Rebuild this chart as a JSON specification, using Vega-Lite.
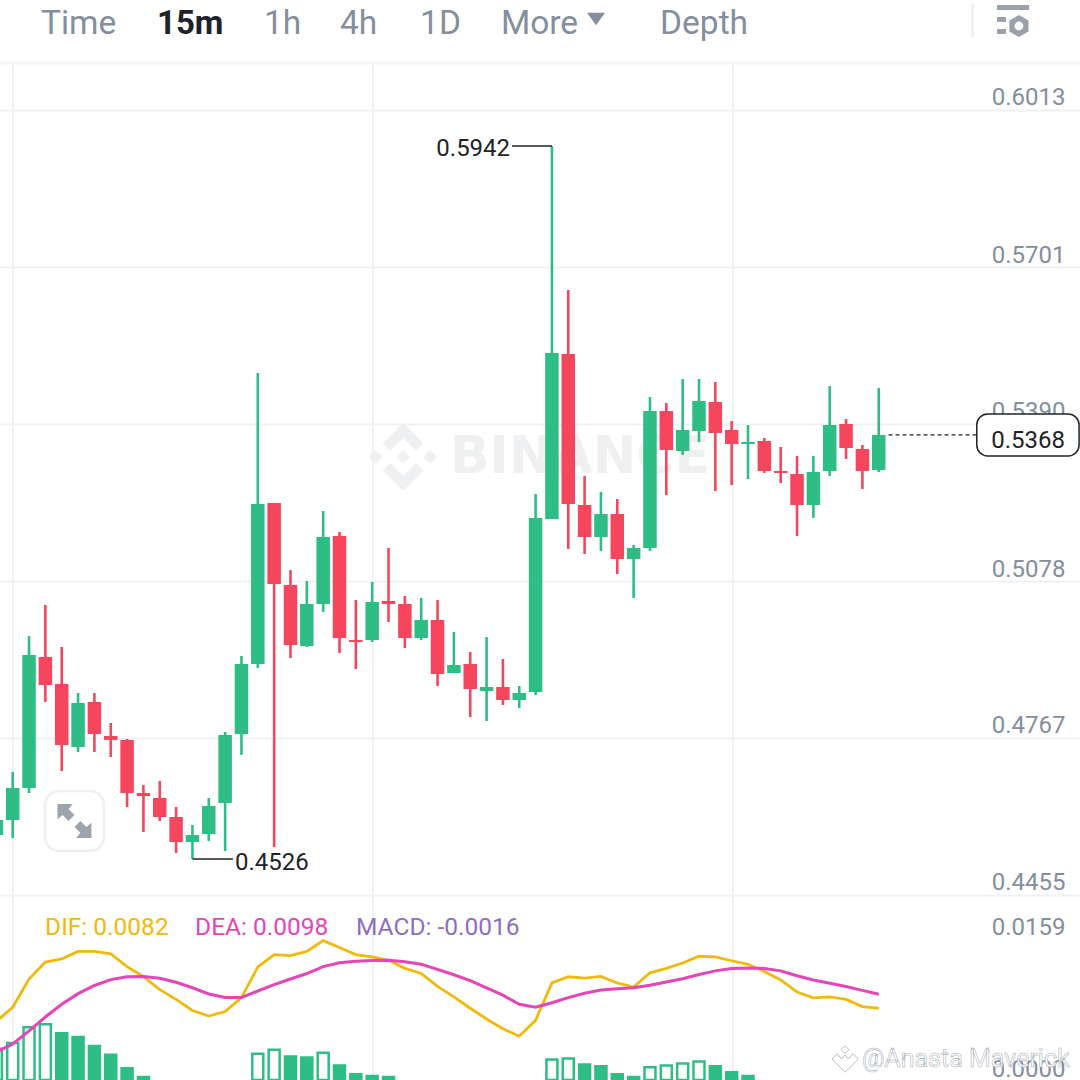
{
"$schema":"https://vega.github.io/schema/vega-lite/v6.json",
"width":1080,"height":1080,
"autosize":{"type":"none"},
"padding":0,
"background":"#ffffff",
"config":{"view":{"stroke":null},"legend":{"disable":true},"axisY":{"title":null,"ticks":false,"domain":false,"labelPadding":-15,"labelAlign":"right","labelBaseline":"alphabetic","labelFont":"Roboto","labelFontSize":24,"labelColor":"#848E9C","format":".4f"}},
"datasets":{
"candles":[
{"i":-1,"open":0.4574,"close":0.46038,"high":0.46137,"low":0.45641,"dir":"up"},
{"i":0,"open":0.46038,"close":0.46673,"high":0.46991,"low":0.45681,"dir":"up"},
{"i":1,"open":0.46673,"close":0.49313,"high":0.4969,"low":0.46574,"dir":"up"},
{"i":2,"open":0.49273,"close":0.48718,"high":0.50306,"low":0.4838,"dir":"down"},
{"i":3,"open":0.48738,"close":0.47527,"high":0.49472,"low":0.47011,"dir":"down"},
{"i":4,"open":0.47488,"close":0.4836,"high":0.48559,"low":0.47388,"dir":"up"},
{"i":5,"open":0.4838,"close":0.47746,"high":0.48559,"low":0.47388,"dir":"down"},
{"i":6,"open":0.47706,"close":0.47627,"high":0.47964,"low":0.47289,"dir":"down"},
{"i":7,"open":0.47627,"close":0.46574,"high":0.47646,"low":0.46296,"dir":"down"},
{"i":8,"open":0.46574,"close":0.46514,"high":0.46733,"low":0.458,"dir":"down"},
{"i":9,"open":0.46475,"close":0.46098,"high":0.46812,"low":0.46018,"dir":"down"},
{"i":10,"open":0.46098,"close":0.45602,"high":0.46296,"low":0.45383,"dir":"down"},
{"i":11,"open":0.45602,"close":0.4574,"high":0.45939,"low":0.45264,"dir":"up"},
{"i":12,"open":0.4576,"close":0.46316,"high":0.46475,"low":0.45622,"dir":"up"},
{"i":13,"open":0.46375,"close":0.47726,"high":0.47785,"low":0.45423,"dir":"up"},
{"i":14,"open":0.47746,"close":0.49134,"high":0.49293,"low":0.47329,"dir":"up"},
{"i":15,"open":0.49134,"close":0.5231,"high":0.54911,"low":0.49055,"dir":"up"},
{"i":16,"open":0.5233,"close":0.50723,"high":0.5233,"low":0.45503,"dir":"down"},
{"i":17,"open":0.50703,"close":0.49511,"high":0.51,"low":0.49253,"dir":"down"},
{"i":18,"open":0.49491,"close":0.50326,"high":0.50782,"low":0.49472,"dir":"up"},
{"i":19,"open":0.50326,"close":0.51655,"high":0.52171,"low":0.50167,"dir":"up"},
{"i":20,"open":0.51675,"close":0.4965,"high":0.51754,"low":0.49352,"dir":"down"},
{"i":21,"open":0.4961,"close":0.49571,"high":0.50405,"low":0.49035,"dir":"down"},
{"i":22,"open":0.4961,"close":0.50365,"high":0.50762,"low":0.49571,"dir":"up"},
{"i":23,"open":0.50385,"close":0.50326,"high":0.51437,"low":0.49968,"dir":"down"},
{"i":24,"open":0.50326,"close":0.4965,"high":0.50484,"low":0.49452,"dir":"down"},
{"i":25,"open":0.4965,"close":0.50008,"high":0.50445,"low":0.4961,"dir":"up"},
{"i":26,"open":0.50008,"close":0.48936,"high":0.50405,"low":0.48698,"dir":"down"},
{"i":27,"open":0.48956,"close":0.49114,"high":0.49769,"low":0.48956,"dir":"up"},
{"i":28,"open":0.49134,"close":0.48638,"high":0.49372,"low":0.48083,"dir":"down"},
{"i":29,"open":0.48599,"close":0.48678,"high":0.4967,"low":0.48003,"dir":"up"},
{"i":30,"open":0.48678,"close":0.4842,"high":0.49233,"low":0.48321,"dir":"down"},
{"i":31,"open":0.4842,"close":0.48559,"high":0.48698,"low":0.48261,"dir":"up"},
{"i":32,"open":0.48579,"close":0.52032,"high":0.52508,"low":0.48519,"dir":"up"},
{"i":33,"open":0.52012,"close":0.55307,"high":0.59415,"low":0.52012,"dir":"up"},
{"i":34,"open":0.55288,"close":0.5231,"high":0.56557,"low":0.51417,"dir":"down"},
{"i":35,"open":0.5229,"close":0.51655,"high":0.52865,"low":0.51318,"dir":"down"},
{"i":36,"open":0.51655,"close":0.52111,"high":0.52548,"low":0.51377,"dir":"up"},
{"i":37,"open":0.52111,"close":0.51218,"high":0.52409,"low":0.50921,"dir":"down"},
{"i":38,"open":0.51218,"close":0.51437,"high":0.51496,"low":0.50445,"dir":"up"},
{"i":39,"open":0.51437,"close":0.54156,"high":0.54434,"low":0.51377,"dir":"up"},
{"i":40,"open":0.54156,"close":0.53382,"high":0.54315,"low":0.52488,"dir":"down"},
{"i":41,"open":0.53362,"close":0.53779,"high":0.54791,"low":0.53283,"dir":"up"},
{"i":42,"open":0.53759,"close":0.54354,"high":0.54791,"low":0.53541,"dir":"up"},
{"i":43,"open":0.54335,"close":0.53719,"high":0.54731,"low":0.52568,"dir":"down"},
{"i":44,"open":0.53779,"close":0.53501,"high":0.53957,"low":0.52687,"dir":"down"},
{"i":45,"open":0.53501,"close":0.53541,"high":0.53878,"low":0.52806,"dir":"up"},
{"i":46,"open":0.53561,"close":0.52965,"high":0.5362,"low":0.52925,"dir":"down"},
{"i":47,"open":0.52965,"close":0.52925,"high":0.53442,"low":0.52727,"dir":"down"},
{"i":48,"open":0.52905,"close":0.5229,"high":0.53263,"low":0.51675,"dir":"down"},
{"i":49,"open":0.5229,"close":0.52945,"high":0.53263,"low":0.52032,"dir":"up"},
{"i":50,"open":0.52965,"close":0.53878,"high":0.54652,"low":0.52866,"dir":"up"},
{"i":51,"open":0.53898,"close":0.53422,"high":0.53997,"low":0.53203,"dir":"down"},
{"i":52,"open":0.53402,"close":0.52965,"high":0.53481,"low":0.52608,"dir":"down"},
{"i":53,"open":0.52985,"close":0.5368,"high":0.54612,"low":0.52945,"dir":"up"}
],
"lines":[
{"i":-1,"dif":0.00672,"dea":0.00319},{"i":0,"dif":0.00831,"dea":0.00412},{"i":1,"dif":0.01154,"dea":0.00561},{"i":2,"dif":0.01347,"dea":0.0072},{"i":3,"dif":0.01384,"dea":0.00865},{"i":4,"dif":0.01469,"dea":0.00987},{"i":5,"dif":0.01469,"dea":0.0108},{"i":6,"dif":0.01443,"dea":0.01147},{"i":7,"dif":0.01296,"dea":0.0118},{"i":8,"dif":0.0118,"dea":0.01184},{"i":9,"dif":0.01032,"dea":0.01162},{"i":10,"dif":0.00921,"dea":0.01117},{"i":11,"dif":0.00794,"dea":0.01054},{"i":12,"dif":0.00731,"dea":0.00983},{"i":13,"dif":0.00783,"dea":0.00942},{"i":14,"dif":0.00942,"dea":0.00942},{"i":15,"dif":0.01291,"dea":0.01017},{"i":16,"dif":0.01433,"dea":0.01091},{"i":17,"dif":0.01422,"dea":0.01154},{"i":18,"dif":0.01469,"dea":0.01217},{"i":19,"dif":0.01592,"dea":0.01296},{"i":20,"dif":0.01514,"dea":0.0134},{"i":21,"dif":0.01433,"dea":0.01358},{"i":22,"dif":0.01407,"dea":0.01366},{"i":23,"dif":0.01369,"dea":0.01369},{"i":24,"dif":0.01276,"dea":0.01351},{"i":25,"dif":0.01217,"dea":0.01322},{"i":26,"dif":0.01069,"dea":0.01265},{"i":27,"dif":0.0095,"dea":0.01203},{"i":28,"dif":0.0082,"dea":0.01136},{"i":29,"dif":0.00697,"dea":0.01054},{"i":30,"dif":0.00586,"dea":0.00969},{"i":31,"dif":0.00501,"dea":0.00865},{"i":32,"dif":0.00682,"dea":0.00831},{"i":33,"dif":0.01109,"dea":0.00883},{"i":34,"dif":0.0118,"dea":0.00942},{"i":35,"dif":0.01165,"dea":0.00991},{"i":36,"dif":0.01184,"dea":0.01028},{"i":37,"dif":0.01109,"dea":0.01042},{"i":38,"dif":0.01062,"dea":0.01054},{"i":39,"dif":0.01225,"dea":0.01083},{"i":40,"dif":0.01276,"dea":0.01121},{"i":41,"dif":0.01337,"dea":0.01158},{"i":42,"dif":0.01414,"dea":0.01206},{"i":43,"dif":0.01407,"dea":0.01247},{"i":44,"dif":0.01363,"dea":0.01273},{"i":45,"dif":0.01322,"dea":0.01281},{"i":46,"dif":0.0124,"dea":0.01273},{"i":47,"dif":0.01143,"dea":0.01247},{"i":48,"dif":0.01006,"dea":0.01191},{"i":49,"dif":0.00939,"dea":0.01143},{"i":50,"dif":0.0095,"dea":0.01106},{"i":51,"dif":0.00921,"dea":0.01069},{"i":52,"dif":0.00839,"dea":0.01024},{"i":53,"dif":0.0082,"dea":0.0098}
],
"hist":[
{"i":-1,"macd":0.00357,"trend":"rising"},{"i":0,"macd":0.00424,"trend":"rising"},{"i":1,"macd":0.00602,"trend":"rising"},{"i":2,"macd":0.00636,"trend":"rising"},{"i":3,"macd":0.00535,"trend":"falling"},{"i":4,"macd":0.00491,"trend":"falling"},{"i":5,"macd":0.0039,"trend":"falling"},{"i":6,"macd":0.0029,"trend":"falling"},{"i":7,"macd":0.00134,"trend":"falling"},{"i":8,"macd":0.00033,"trend":"falling"},
{"i":15,"macd":0.00301,"trend":"rising"},{"i":16,"macd":0.00346,"trend":"rising"},{"i":17,"macd":0.00268,"trend":"falling"},{"i":18,"macd":0.00256,"trend":"falling"},{"i":19,"macd":0.00312,"trend":"rising"},{"i":20,"macd":0.00167,"trend":"falling"},{"i":21,"macd":0.00067,"trend":"falling"},{"i":22,"macd":0.00045,"trend":"falling"},{"i":23,"macd":0.00033,"trend":"falling"},
{"i":33,"macd":0.00234,"trend":"rising"},{"i":34,"macd":0.00245,"trend":"rising"},{"i":35,"macd":0.00178,"trend":"falling"},{"i":36,"macd":0.00156,"trend":"falling"},{"i":37,"macd":0.00067,"trend":"falling"},{"i":38,"macd":0.00033,"trend":"falling"},{"i":39,"macd":0.00145,"trend":"rising"},{"i":40,"macd":0.00167,"trend":"rising"},{"i":41,"macd":0.0019,"trend":"rising"},{"i":42,"macd":0.00212,"trend":"rising"},{"i":43,"macd":0.00156,"trend":"falling"},{"i":44,"macd":0.00089,"trend":"falling"},{"i":45,"macd":0.00045,"trend":"falling"}
]
},
"layer":[
{"layer":[
{"data":{"values":[{"tick":0.02},{"tick":22.05},{"tick":44.08}]},"mark":{"type":"rule","color":"#F0F1F3","strokeWidth":2},"encoding":{
 "x":{"field":"tick","type":"quantitative","axis":null,"scale":{"domain":[-0.777,65.317],"nice":false,"zero":false,"padding":0}},
 "y":{"datum":0.61023,"type":"quantitative","scale":{"domain":[0.40878,0.62313],"nice":false,"zero":false,"padding":0},"axis":{"orient":"right","values":[0.6013,0.5701,0.539,0.5078,0.4767,0.4455],"grid":true,"gridColor":"#F0F1F3","gridWidth":2,"labelOffset":-5}},
 "y2":{"datum":0.40878}}},
{"data":{"values":[{"sep":"header"}]},"mark":{"type":"rule","color":"#F5F6F7","strokeWidth":3},"encoding":{"y":{"datum":0.61063,"type":"quantitative"}}},
{"data":{"values":[{"logo":"BINANCE"}]},"mark":{"type":"point","filled":true,"color":"#EEF0F2","opacity":1,"shape":"M-0.2,0L0,-0.2L0.2,0L0,0.2ZM-1,0L-0.8,-0.2L-0.6,0L-0.8,0.2ZM1,0L0.8,-0.2L0.6,0L0.8,0.2ZM0,-1L0.6,-0.4L0.38,-0.18L0,-0.55L-0.38,-0.18L-0.6,-0.4ZM0,1L0.6,0.4L0.38,0.18L0,0.55L-0.38,0.18L-0.6,0.4Z","size":4624},"encoding":{"x":{"datum":23.89,"type":"quantitative","axis":null},"y":{"datum":0.53243,"type":"quantitative"}}},
{"data":{"values":[{"label":"BINANCE"}]},"mark":{"type":"text","font":"DejaVu Sans","fontWeight":"bold","fontSize":52,"align":"left","baseline":"middle","color":"#EEF0F2"},"encoding":{"x":{"datum":26.76,"type":"quantitative","axis":null},"y":{"datum":0.53243,"type":"quantitative"},"text":{"field":"label"}}},
{"data":{"name":"candles"},"mark":{"type":"rule","strokeWidth":2.6,"clip":true},"encoding":{"x":{"field":"i","type":"quantitative","axis":null},"y":{"field":"low","type":"quantitative"},"y2":{"field":"high"},"color":{"field":"dir","type":"nominal","scale":{"domain":["up","down"],"range":["#2EBD85","#F6465D"]}}}},
{"data":{"name":"candles"},"mark":{"type":"bar","size":13.5,"clip":true},"encoding":{"x":{"field":"i","type":"quantitative","axis":null},"y":{"field":"open","type":"quantitative"},"y2":{"field":"close"},"color":{"field":"dir","type":"nominal"}}},
{"data":{"values":[{"note":"high"}]},"mark":{"type":"rule","color":"#1E2329","strokeWidth":1.5},"encoding":{"x":{"datum":30.56,"type":"quantitative","axis":null},"x2":{"datum":33},"y":{"datum":0.59415,"type":"quantitative"}}},
{"data":{"values":[{"note":"low"}]},"mark":{"type":"rule","color":"#1E2329","strokeWidth":1.5},"encoding":{"x":{"datum":11,"type":"quantitative","axis":null},"x2":{"datum":13.48},"y":{"datum":0.45264,"type":"quantitative"}}},
{"data":{"values":[{"label":"0.5942"}]},"mark":{"type":"text","font":"Roboto","fontSize":24,"align":"right","baseline":"middle","color":"#1E2329"},"encoding":{"x":{"datum":30.44,"type":"quantitative","axis":null},"y":{"datum":0.59346,"type":"quantitative"},"text":{"field":"label"}}},
{"data":{"values":[{"label":"0.4526"}]},"mark":{"type":"text","font":"Roboto","fontSize":24,"align":"left","baseline":"middle","color":"#1E2329"},"encoding":{"x":{"datum":13.6,"type":"quantitative","axis":null},"y":{"datum":0.45185,"type":"quantitative"},"text":{"field":"label"}}},
{"data":{"values":[{"note":"last"}]},"mark":{"type":"rule","color":"#1E2329","strokeWidth":1.2,"strokeDash":[4,3]},"encoding":{"x":{"datum":53.6,"type":"quantitative","axis":null},"x2":{"datum":59},"y":{"datum":0.5368,"type":"quantitative"}}},
{"data":{"values":[{"note":"box"}]},"mark":{"type":"rect","fill":"#ffffff","stroke":"#1E2329","strokeWidth":1.5,"cornerRadius":11},"encoding":{"x":{"datum":59,"type":"quantitative","axis":null},"x2":{"datum":65.26},"y":{"datum":0.54096,"type":"quantitative"},"y2":{"datum":0.53262}}},
{"data":{"values":[{"label":"0.5368"}]},"mark":{"type":"text","font":"Roboto","fontSize":24,"align":"right","baseline":"middle","color":"#1E2329"},"encoding":{"x":{"datum":64.4,"type":"quantitative","axis":null},"y":{"datum":0.53561,"type":"quantitative"},"text":{"field":"label"}}},
{"data":{"values":[{"note":"expand"}]},"mark":{"type":"rect","fill":"#ffffff","stroke":"#EEF0F2","strokeWidth":2.5,"cornerRadius":14},"encoding":{"x":{"datum":1.98,"type":"quantitative","axis":null},"x2":{"datum":5.59},"y":{"datum":0.46614,"type":"quantitative"},"y2":{"datum":0.45423}}},
{"data":{"values":[{"note":"expand"}]},"mark":{"type":"point","filled":true,"opacity":1,"color":"#9EA4AE","size":1156,"shape":"M-1,-1L-0.1,-1L-0.35,-0.7L0,-0.35L-0.35,0L-0.7,-0.35L-1,-0.1ZM1,1L0.1,1L0.35,0.7L0,0.35L0.35,0L0.7,0.35L1,0.1Z"},"encoding":{"x":{"datum":3.78,"type":"quantitative","axis":null},"y":{"datum":0.46019,"type":"quantitative"}}},
{"data":{"values":[{"label":"DIF: 0.0082"}]},"mark":{"type":"text","font":"Roboto","fontSize":24.5,"align":"left","baseline":"middle","color":"#F0B90B"},"encoding":{"x":{"datum":1.98,"type":"quantitative","axis":null},"y":{"datum":0.43895,"type":"quantitative"},"text":{"field":"label"}}},
{"data":{"values":[{"label":"DEA: 0.0098"}]},"mark":{"type":"text","font":"Roboto","fontSize":24.5,"align":"left","baseline":"middle","color":"#E545B6"},"encoding":{"x":{"datum":11.16,"type":"quantitative","axis":null},"y":{"datum":0.43895,"type":"quantitative"},"text":{"field":"label"}}},
{"data":{"values":[{"label":"MACD: -0.0016"}]},"mark":{"type":"text","font":"Roboto","fontSize":24.5,"align":"left","baseline":"middle","color":"#8D6FBF"},"encoding":{"x":{"datum":21.01,"type":"quantitative","axis":null},"y":{"datum":0.43895,"type":"quantitative"},"text":{"field":"label"}}},
{"data":{"values":[{"label":"Time"}]},"mark":{"type":"text","font":"Roboto","fontSize":33.5,"align":"left","baseline":"middle","color":"#848E9C"},"encoding":{"x":{"datum":1.73,"type":"quantitative","axis":null},"y":{"datum":0.61837,"type":"quantitative"},"text":{"field":"label"}}},
{"data":{"values":[{"label":"15m"}]},"mark":{"type":"text","font":"Roboto","fontWeight":"bold","fontSize":33,"align":"left","baseline":"middle","color":"#1E2329"},"encoding":{"x":{"datum":8.83,"type":"quantitative","axis":null},"y":{"datum":0.61837,"type":"quantitative"},"text":{"field":"label"}}},
{"data":{"values":[{"label":"1h"}]},"mark":{"type":"text","font":"Roboto","fontSize":33.5,"align":"left","baseline":"middle","color":"#848E9C"},"encoding":{"x":{"datum":15.38,"type":"quantitative","axis":null},"y":{"datum":0.61837,"type":"quantitative"},"text":{"field":"label"}}},
{"data":{"values":[{"label":"4h"}]},"mark":{"type":"text","font":"Roboto","fontSize":33.5,"align":"left","baseline":"middle","color":"#848E9C"},"encoding":{"x":{"datum":20.03,"type":"quantitative","axis":null},"y":{"datum":0.61837,"type":"quantitative"},"text":{"field":"label"}}},
{"data":{"values":[{"label":"1D"}]},"mark":{"type":"text","font":"Roboto","fontSize":33.5,"align":"left","baseline":"middle","color":"#848E9C"},"encoding":{"x":{"datum":24.93,"type":"quantitative","axis":null},"y":{"datum":0.61837,"type":"quantitative"},"text":{"field":"label"}}},
{"data":{"values":[{"label":"More"}]},"mark":{"type":"text","font":"Roboto","fontSize":33.5,"align":"left","baseline":"middle","color":"#848E9C"},"encoding":{"x":{"datum":29.88,"type":"quantitative","axis":null},"y":{"datum":0.61837,"type":"quantitative"},"text":{"field":"label"}}},
{"data":{"values":[{"label":"Depth"}]},"mark":{"type":"text","font":"Roboto","fontSize":33.5,"align":"left","baseline":"middle","color":"#848E9C"},"encoding":{"x":{"datum":39.62,"type":"quantitative","axis":null},"y":{"datum":0.61837,"type":"quantitative"},"text":{"field":"label"}}},
{"data":{"values":[{"note":"more arrow"}]},"mark":{"type":"point","filled":true,"opacity":1,"color":"#848E9C","size":324,"shape":"M-1,-0.7L1,-0.7L0,0.7Z"},"encoding":{"x":{"datum":35.7,"type":"quantitative","axis":null},"y":{"datum":0.61936,"type":"quantitative"}}},
{"data":{"values":[{"note":"divider"}]},"mark":{"type":"rule","color":"#EEF0F1","strokeWidth":3},"encoding":{"x":{"datum":58.74,"type":"quantitative","axis":null},"y":{"datum":0.62234,"type":"quantitative"},"y2":{"datum":0.61579}}},
{"data":{"values":[{"note":"settings"}]},"mark":{"type":"rect","color":"#9AA1AD"},"encoding":{"x":{"datum":60.24,"type":"quantitative","axis":null},"x2":{"datum":62.2},"y":{"datum":0.62214,"type":"quantitative"},"y2":{"datum":0.62115}}},
{"data":{"values":[{"note":"settings"}]},"mark":{"type":"rect","color":"#9AA1AD"},"encoding":{"x":{"datum":60.24,"type":"quantitative","axis":null},"x2":{"datum":60.79},"y":{"datum":0.61976,"type":"quantitative"},"y2":{"datum":0.61876}}},
{"data":{"values":[{"note":"settings"}]},"mark":{"type":"rect","color":"#9AA1AD"},"encoding":{"x":{"datum":60.24,"type":"quantitative","axis":null},"x2":{"datum":60.79},"y":{"datum":0.61737,"type":"quantitative"},"y2":{"datum":0.61638}}},
{"data":{"values":[{"note":"settings"}]},"mark":{"type":"point","filled":true,"opacity":1,"color":"#9AA1AD","size":484,"shape":"M0,-1L0.87,-0.5L0.87,0.5L0,1L-0.87,0.5L-0.87,-0.5Z"},"encoding":{"x":{"datum":61.58,"type":"quantitative","axis":null},"y":{"datum":0.61797,"type":"quantitative"}}},
{"data":{"values":[{"note":"settings"}]},"mark":{"type":"point","filled":true,"opacity":1,"color":"#ffffff","size":78,"shape":"circle"},"encoding":{"x":{"datum":61.58,"type":"quantitative","axis":null},"y":{"datum":0.61797,"type":"quantitative"}}}
]},
{"layer":[
{"data":{"name":"hist"},"mark":{"type":"bar","size":11,"strokeWidth":2.5,"stroke":"#2EBD85","clip":true},"encoding":{
 "x":{"field":"i","type":"quantitative","axis":null},
 "y":{"field":"macd","type":"quantitative","stack":null,"scale":{"domain":[0,0.12343],"nice":false,"zero":false,"padding":0},"axis":{"orient":"right","values":[0.0159,0],"grid":false,"labelOffset":{"condition":{"test":"datum.value == 0","value":-3.5},"value":-6.5}}},
 "y2":{"datum":0},
 "fill":{"field":"trend","type":"nominal","scale":{"domain":["rising","falling"],"range":["#ffffff","#2EBD85"]}}}},
{"data":{"name":"lines"},"mark":{"type":"line","color":"#F0B90B","strokeWidth":2.8,"clip":true},"encoding":{"x":{"field":"i","type":"quantitative","axis":null},"y":{"field":"dif","type":"quantitative"}}},
{"data":{"name":"lines"},"mark":{"type":"line","color":"#E545B6","strokeWidth":3,"clip":true},"encoding":{"x":{"field":"i","type":"quantitative","axis":null},"y":{"field":"dea","type":"quantitative"}}},
{"data":{"values":[{"note":"author"}]},"mark":{"type":"point","opacity":1,"filled":false,"color":"#B7BDC6","strokeWidth":1,"size":700,"shape":"M-1,0L-0.6,-0.4L-0.25,0L0,-0.3L0.25,0L0.6,-0.4L1,0L0,1ZM0,-1L0.3,-0.7L0,-0.4L-0.3,-0.7Z"},"encoding":{"x":{"datum":50.94,"type":"quantitative","axis":null},"y":{"datum":0.0024,"type":"quantitative"}}},
{"data":{"values":[{"label":"@Anasta Maverick"}]},"mark":{"type":"text","font":"Roboto","fontSize":25,"align":"left","baseline":"middle","fill":"#ffffff","stroke":"#AEB4BC","strokeWidth":0.6},"encoding":{"x":{"datum":51.97,"type":"quantitative","axis":null},"y":{"datum":0.0024,"type":"quantitative"},"text":{"field":"label"}}}
]}
],
"resolve":{"scale":{"y":"independent"}}
}
